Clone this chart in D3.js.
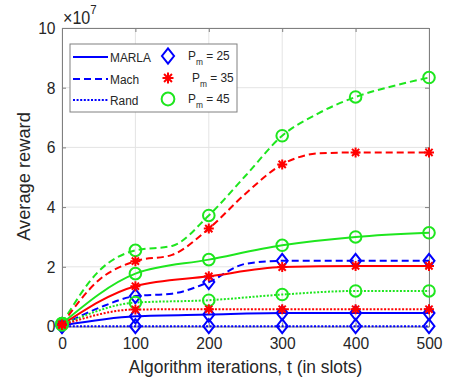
<!DOCTYPE html>
<html><head><meta charset="utf-8">
<script src="https://cdn.jsdelivr.net/npm/d3@7"></script>
<style>
body{margin:0;background:#fff}
svg{display:block}
text{font-family:"Liberation Sans",Arial,Helvetica,sans-serif;fill:#262626}
</style>
</head><body>
<svg id="c" width="474" height="379"></svg>
<script>
// ---- data (values in units of 10^7) ----
const iterations = [0, 100, 200, 300, 400, 500];
const machIterations = [0, 50, 100, 150, 200, 250, 300, 350, 400, 450, 500];
const xTicks = [0, 100, 200, 300, 400, 500];
const yTicks = [0, 2, 4, 6, 8, 10];
const marla25 = [0.03, 0.34, 0.40, 0.45, 0.45, 0.45];
const marla35 = [0.06, 1.35, 1.68, 1.99, 2.03, 2.03];
const marla45 = [0.10, 1.77, 2.24, 2.72, 3.00, 3.14];
const mach25  = [0.05, 0.62, 1.02, 1.10, 1.49, 2.10, 2.20, 2.20, 2.20, 2.20, 2.20];
const mach35  = [0.07, 1.55, 2.19, 2.40, 3.28, 4.45, 5.43, 5.80, 5.83, 5.83, 5.83];
const mach45  = [0.10, 1.85, 2.55, 2.70, 3.72, 5.05, 6.39, 7.15, 7.69, 8.05, 8.34];
const rand25  = [0.01, 0.01, 0.01, 0.01, 0.01, 0.01];
const rand35  = [0.05, 0.57, 0.58, 0.58, 0.58, 0.58];
const rand45  = [0.05, 0.80, 0.88, 1.07, 1.19, 1.19];
const methodNames = ["MARLA", "Mach", "Rand"];
const powerLabels = ["25", "35", "45"];

const BLUE = "#0000ff", RED = "#ff0000", GREEN = "#1ee61e";
const svg = d3.select("#c");
const L = 62, R = 429, T = 28, B = 326.5;
const x = d3.scaleLinear().domain([0, 500]).range([L, R]);
const y = d3.scaleLinear().domain([0, 10]).range([B, T]);

// grid
const grid = svg.append("g").attr("stroke", "#e4e4e4").attr("stroke-width", 1);
xTicks.forEach(t => grid.append("line").attr("x1", x(t)).attr("x2", x(t)).attr("y1", T).attr("y2", B));
yTicks.forEach(t => grid.append("line").attr("x1", L).attr("x2", R).attr("y1", y(t)).attr("y2", y(t)));

// axes
const axisColor = "#808080";
function styleAxis(g) {
  g.selectAll(".domain").attr("stroke", axisColor);
  g.selectAll(".tick line").attr("stroke", axisColor);
  g.selectAll("text").attr("font-size", 17).attr("fill", "#262626")
    .attr("font-family", '"Liberation Sans",Arial,sans-serif');
}
const gx = svg.append("g").attr("transform", `translate(0,${B})`)
  .call(d3.axisBottom(x).tickValues(xTicks).tickFormat(d3.format("d")).tickSize(-4).tickSizeOuter(0).tickPadding(10.5));
styleAxis(gx);
gx.selectAll("text").attr("transform", "scale(0.92,1)");
const gy = svg.append("g").attr("transform", `translate(${L},0)`)
  .call(d3.axisLeft(y).tickValues(yTicks).tickFormat(d3.format("d")).tickSize(-4).tickSizeOuter(0).tickPadding(7));
styleAxis(gy);
gy.selectAll("text").attr("transform", "scale(0.92,1)");
const gt = svg.append("g").attr("transform", `translate(0,${T})`)
  .call(d3.axisTop(x).tickValues(xTicks).tickFormat("").tickSize(-4).tickSizeOuter(0));
styleAxis(gt);
const gr = svg.append("g").attr("transform", `translate(${R},0)`)
  .call(d3.axisRight(y).tickValues(yTicks).tickFormat("").tickSize(-4).tickSizeOuter(0));
styleAxis(gr);

// multiplier
const mult = svg.append("text").attr("transform", "translate(63,23.5) scale(0.92,1)").attr("font-size", 17.5);
mult.append("tspan").text("×10");
mult.append("tspan").attr("font-size", 12.5).attr("dy", -9.5).text("7");

// axis labels
svg.append("text").attr("transform", "translate(245.5,373) scale(0.94,1)")
  .attr("text-anchor", "middle").attr("font-size", 18.5).text("Algorithm iterations, t (in slots)");
svg.append("text").attr("transform", "translate(30,176.5) rotate(-90)")
  .attr("text-anchor", "middle").attr("font-size", 18.3).text("Average reward");

// series
const series = [
  {v: marla25, xs: iterations, c: BLUE, m: "diamond", d: null},
  {v: mach25,  xs: machIterations, c: BLUE, m: "diamond", d: "7,4"},
  {v: rand25,  xs: iterations, c: BLUE, m: "diamond", d: "2,1.6"},
  {v: marla45, xs: iterations, c: GREEN, m: "circle", d: null},
  {v: mach45,  xs: machIterations, c: GREEN, m: "circle", d: "7,4"},
  {v: rand45,  xs: iterations, c: GREEN, m: "circle", d: "2,1.6"},
  {v: marla35, xs: iterations, c: RED, m: "star", d: null},
  {v: mach35,  xs: machIterations, c: RED, m: "star", d: "7,4"},
  {v: rand35,  xs: iterations, c: RED, m: "star", d: "2,1.6"},
];

function marker(g, type, cx, cy, color, s) {
  s = s || 1;
  if (type === "diamond") {
    g.append("path").attr("d", `M${cx},${cy - 7 * s}L${cx + 5.5 * s},${cy}L${cx},${cy + 7 * s}L${cx - 5.5 * s},${cy}Z`)
      .attr("fill", "none").attr("stroke", color).attr("stroke-width", 2);
  } else if (type === "circle") {
    g.append("circle").attr("cx", cx).attr("cy", cy).attr("r", 5.8 * s)
      .attr("fill", "none").attr("stroke", color).attr("stroke-width", 2);
  } else {
    const r = 5 * s, q = r * 0.72;
    g.append("path").attr("d",
      `M${cx},${cy - r}V${cy + r}M${cx - r},${cy}H${cx + r}M${cx - q},${cy - q}L${cx + q},${cy + q}M${cx - q},${cy + q}L${cx + q},${cy - q}`)
      .attr("fill", "none").attr("stroke", color).attr("stroke-width", 2);
  }
}

const plot = svg.append("g");
series.forEach(s => {
  const line = d3.line().x((d, i) => x(s.xs[i])).y(d => y(d)).curve(d3.curveMonotoneX);
  plot.append("path").attr("d", line(s.v)).attr("fill", "none").attr("stroke", s.c)
    .attr("stroke-width", 2).attr("stroke-dasharray", s.d);
});
series.forEach(s => {
  s.v.forEach((val, i) => {
    if (iterations.includes(s.xs[i])) marker(plot, s.m, x(s.xs[i]), y(val), s.c);
  });
});

// legend
const lg = svg.append("g");
lg.append("rect").attr("x", 70).attr("y", 44).attr("width", 167).attr("height", 68)
  .attr("fill", "#fff").attr("stroke", axisColor).attr("stroke-width", 1);
const rowsY = [57, 79, 100];
const dashes = [null, "7,4", "2,1.6"];
methodNames.forEach((n, i) => {
  lg.append("line").attr("x1", 73).attr("x2", 108).attr("y1", rowsY[i]).attr("y2", rowsY[i])
    .attr("stroke", BLUE).attr("stroke-width", 2).attr("stroke-dasharray", dashes[i]);
  lg.append("text").attr("transform", `translate(110,${rowsY[i] + 4.5}) scale(0.88,1)`)
    .attr("font-size", 13.5).text(n);
});
const mk = [["diamond", BLUE], ["star", RED], ["circle", GREEN]];
const px = [188, 192, 188];
powerLabels.forEach((p, i) => {
  marker(lg, mk[i][0], 168, rowsY[i] - 1, mk[i][1], 1.1);
  const t = lg.append("text").attr("transform", `translate(${px[i]},${rowsY[i] + 3}) scale(0.88,1)`).attr("font-size", 13.5);
  t.append("tspan").text("P");
  t.append("tspan").attr("font-size", 9.5).attr("dy", 5).text("m");
  t.append("tspan").attr("dy", -5).text(" = " + p);
});
</script>
</body></html>
